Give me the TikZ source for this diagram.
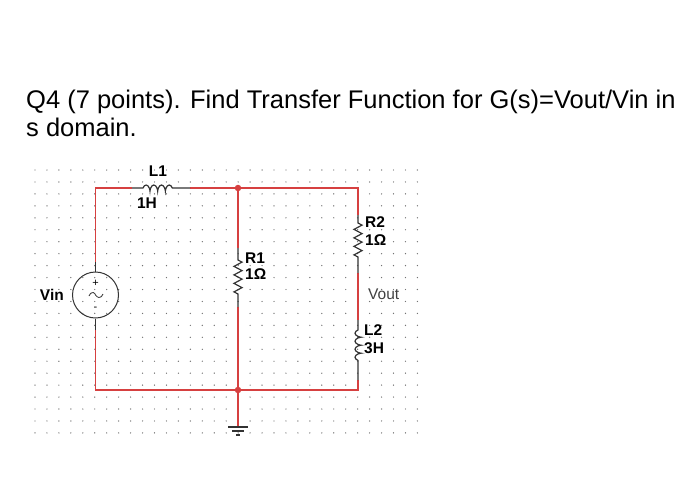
\documentclass[tikz,border=0pt]{standalone}
\usepackage{fontspec}
\setmainfont{Liberation Sans}
\usetikzlibrary{decorations.pathmorphing}
\definecolor{wirered}{RGB}{214,64,64}
\begin{document}
\begin{tikzpicture}[x=1pt,y=-1pt,
  wire/.style={draw=wirered,line width=1.3pt},
  lead/.style={draw=black!80,line width=1.2pt},
  lbl/.style={font=\bfseries\fontsize{15.5}{15.5}\selectfont,inner sep=0pt},
  jn/.style={circle,fill=wirered,inner sep=0pt,minimum size=6.5pt}]
\useasboundingbox (0,0) rectangle (700,495);
\node[anchor=west,inner sep=0pt,font=\fontsize{25.5}{28}\selectfont,align=left] (title) at (26,113)
 {Q4 (7 points). Find Transfer Function for G(s)=Vout/Vin in\\ s domain.};
% grid
\foreach \i in {0,...,32} \foreach \j in {0,...,22}
  \fill[black!55] (35+\i*11.95,170+\j*11.95) circle (0.7);
% coordinates
\coordinate (tl) at (95.5,188); \coordinate (tm) at (238,188); \coordinate (tr) at (358,188);
\coordinate (bl) at (95.5,390); \coordinate (bm) at (238,390); \coordinate (br) at (358,390);
\coordinate (l1a) at (132,188); \coordinate (l1b) at (190,188);
\node[circle,draw=black!80,line width=1pt,minimum size=46pt,inner sep=0pt] (vs) at (95.5,295) {};
\coordinate (vst) at (95.5,262); \coordinate (vsb) at (95.5,330);
\coordinate (r1a) at (238,248); \coordinate (r1b) at (238,307);
\coordinate (r2a) at (358,215); \coordinate (r2b) at (358,273);
\coordinate (l2a) at (358,320); \coordinate (l2b) at (358,380);
\coordinate (gnd) at (238,427);
% wires
\draw[wire] (vst) -- (tl) -- (l1a);
\draw[wire] (l1b) -- (tr) -- (r2a);
\draw[wire] (tm) -- (r1a);
\draw[wire] (r1b) -- (bm);
\draw[wire] (r2b) -- (l2a);
\draw[wire] (l2b) -- (br) -- (bl) -- (vsb);
\draw[wire] (bm) -- (gnd);
% L1
\draw[lead] (l1a) -- (143,188)
  decorate[decoration={coil,aspect=0.4,segment length=7.7pt,amplitude=3pt}]{ -- (174,188)} -- (l1b);
% source
\draw[lead] (vst) -- (vs.north); \draw[lead] (vsb) -- (vs.south);
\node[font=\fontsize{11}{11}\selectfont,inner sep=0pt] (plus) at (95.5,283) {+};
\node[font=\fontsize{11}{11}\selectfont,inner sep=0pt] (minus) at (95.5,309) {-};
\draw[black!80,line width=0.8pt] (89,296) .. controls (92,290) and (95,293) .. (95.5,295) .. controls (97,297) and (100,300) .. (103,294);
% resistors
\draw[lead] (r1a) -- (238,260)
  decorate[decoration={zigzag,segment length=8.5pt,amplitude=4pt}]{ -- (238,295)} -- (r1b);
\draw[lead] (r2a) -- (358,223)
  decorate[decoration={zigzag,segment length=8.5pt,amplitude=4pt}]{ -- (358,258)} -- (r2b);
\draw[lead] (l2a) -- (358,330)
  decorate[decoration={coil,aspect=0.4,segment length=8pt,amplitude=3pt,mirror}]{ -- (358,363)} -- (l2b);
% ground
\draw[black!80,line width=1.1pt] (228,427) -- (248,427) (232,431) -- (244,431) (236,435) -- (240,435);
% junctions
\node[jn] (j1) at (tm) {}; \node[jn] (j2) at (bm) {};
% labels
\node[lbl] (L1t) at (158,171) {L1};
\node[lbl] (L1v) at (147,203) {1H};
\node[lbl,anchor=west] (R1t) at (245,258) {R1};
\node[lbl,anchor=west] (R1v) at (245,274) {1Ω};
\node[lbl,anchor=west] (R2t) at (365,222) {R2};
\node[lbl,anchor=west] (R2v) at (365,240) {1Ω};
\node[lbl,anchor=west] (L2t) at (364,330) {L2};
\node[lbl,anchor=west] (L2v) at (364,348) {3H};
\node[lbl,anchor=east] (vin) at (64,295) {Vin};
\node[inner sep=0pt,anchor=west,font=\fontsize{15.5}{15.5}\selectfont,text=black!75] (vout) at (368,294) {Vout};
\end{tikzpicture}
\end{document}
